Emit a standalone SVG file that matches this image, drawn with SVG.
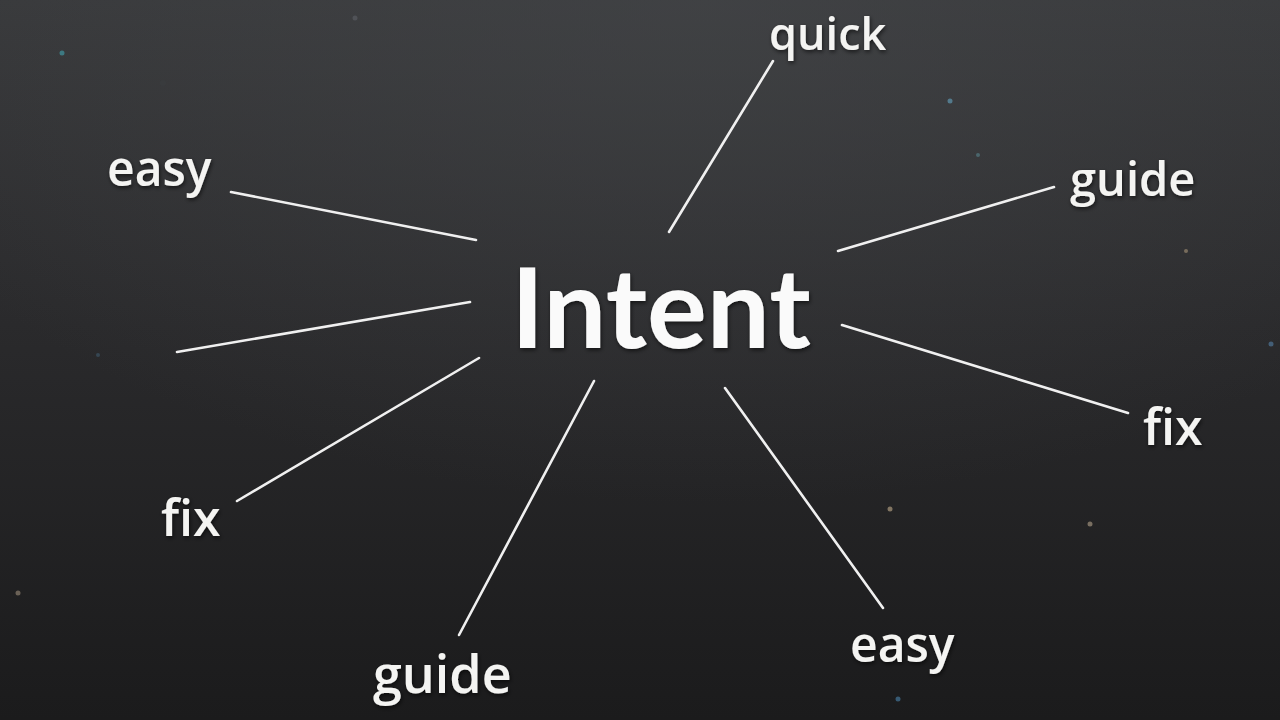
<svg xmlns="http://www.w3.org/2000/svg" width="1280" height="720" viewBox="0 0 1280 720">
<defs>
<linearGradient id="bg" x1="0" y1="0" x2="0" y2="1">
<stop offset="0" stop-color="#38393b"/>
<stop offset="0.45" stop-color="#2a2a2c"/>
<stop offset="1" stop-color="#1b1b1c"/>
</linearGradient>
<radialGradient id="glow" cx="0.55" cy="0" r="0.7">
<stop offset="0" stop-color="#45474a" stop-opacity="0.6"/>
<stop offset="1" stop-color="#45474a" stop-opacity="0"/>
</radialGradient>
<filter id="sh" x="-20%" y="-20%" width="140%" height="140%">
<feDropShadow dx="1" dy="2" stdDeviation="2" flood-color="#000" flood-opacity="0.6"/>
</filter>
<style>
.lbl{font-family:"Open Sans","Noto Sans",sans-serif;font-weight:600;fill:#f4f4f2;filter:url(#sh)}
.hub{font-family:Lato,"Open Sans",sans-serif;font-weight:700;fill:#fafafa;filter:url(#sh)}
.edge{stroke:#f0f0f0;stroke-width:2.6;stroke-linecap:round;fill:none}
.dot{opacity:0.8}
</style>
</defs>
<rect width="1280" height="720" fill="url(#bg)"/>
<rect width="1280" height="720" fill="url(#glow)"/>
<g id="particles">
<circle class="dot" cx="62" cy="53" r="2.5" fill="#3f8a94"/>
<circle class="dot" cx="355" cy="18" r="2.5" fill="#55585c"/>
<circle class="dot" cx="950" cy="101" r="2.5" fill="#5a8aa0"/>
<circle class="dot" cx="978" cy="155" r="2" fill="#4f7078"/>
<circle class="dot" cx="1186" cy="251" r="2" fill="#8a7c66"/>
<circle class="dot" cx="890" cy="509" r="2.5" fill="#9a8a72"/>
<circle class="dot" cx="1090" cy="524" r="2.5" fill="#8f8270"/>
<circle class="dot" cx="18" cy="593" r="2.5" fill="#7d7264"/>
<circle class="dot" cx="1271" cy="344" r="2.5" fill="#4a6c8a"/>
<circle class="dot" cx="898" cy="699" r="2.5" fill="#3f6a8a"/>
<circle class="dot" cx="98" cy="355" r="2" fill="#3a4e5c"/>
<circle class="dot" cx="163" cy="83" r="3" fill="#3a3c3e"/>
</g>
<g id="connectors">
<line class="edge" x1="669" y1="232" x2="773" y2="61"/>
<line class="edge" x1="838" y1="251" x2="1054" y2="187"/>
<line class="edge" x1="842" y1="325" x2="1128" y2="413"/>
<line class="edge" x1="725" y1="388" x2="883" y2="608"/>
<line class="edge" x1="594" y1="381" x2="459" y2="635"/>
<line class="edge" x1="479" y1="358" x2="237" y2="501"/>
<line class="edge" x1="470" y1="302" x2="177" y2="352"/>
<line class="edge" x1="476" y1="240" x2="231" y2="192"/>
</g>
<g id="node-intent"><text class="hub" x="511" y="348" font-size="112">Intent</text></g>
<g id="node-quick"><text class="lbl" x="769" y="50" font-size="45">quick</text></g>
<g id="node-guide-right"><text class="lbl" x="1070" y="196" font-size="47">guide</text></g>
<g id="node-fix-right"><text class="lbl" x="1143" y="445" font-size="50">fix</text></g>
<g id="node-easy-bottom"><text class="lbl" x="850" y="662" font-size="48">easy</text></g>
<g id="node-guide-bottom"><text class="lbl" x="373" y="693" font-size="52">guide</text></g>
<g id="node-fix-left"><text class="lbl" x="161" y="536" font-size="50">fix</text></g>
<g id="node-easy-left"><text class="lbl" x="107" y="186" font-size="48">easy</text></g>
</svg>
